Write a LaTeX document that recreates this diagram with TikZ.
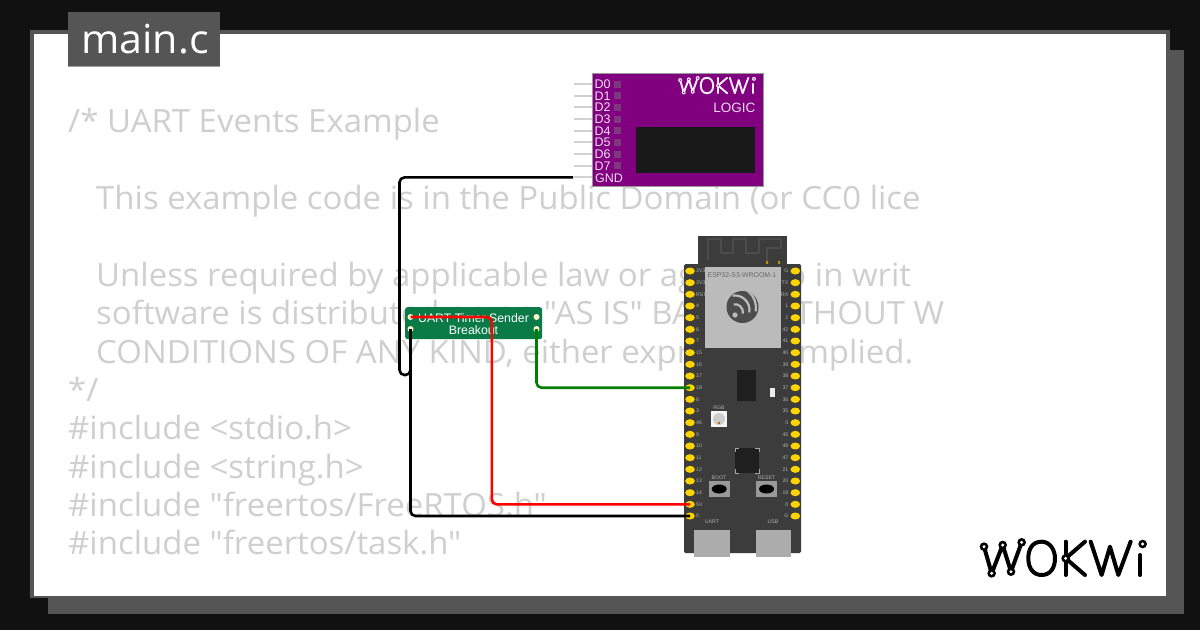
\documentclass[tikz,border=0pt]{standalone}
\usepackage{fontspec}
\setmainfont{Liberation Sans}
\newfontfamily\codefont[FakeStretch=1.03]{Open Sans}
\definecolor{bgdark}{HTML}{111111}
\definecolor{framegray}{HTML}{555555}
\definecolor{codegray}{HTML}{CFCFCF}
\definecolor{boardgray}{HTML}{3C3C3C}
\definecolor{pinyellow}{HTML}{FFD500}
\definecolor{logicpurple}{HTML}{800080}
\definecolor{breakgreen}{HTML}{0A7A46}
\definecolor{tinygray}{HTML}{B0B0B0}
\definecolor{modgray}{HTML}{BBBBBB}
\tikzset{
 codeline/.style={anchor=base west,inner sep=0,text=codegray,font=\codefont\fontsize{32}{32}\selectfont},
 tinyl/.style={inner sep=0,text=tinygray,font=\fontsize{5.2}{5.2}\selectfont},
 chanl/.style={anchor=base west,inner sep=0,text=white!88!logicpurple,font=\fontsize{12.5}{12.5}\selectfont},
 wirepath/.style={line width=2.6pt,rounded corners=5pt,line join=round},
}
\newcommand{\wokwilogo}[6]{%
 \begin{scope}[shift={(#1,#2)},x=#3pt,y=-#3pt,line cap=round,line join=round,line width=#5,draw=#4]
  \draw (72,65) -- (95,145) -- (128,60) -- (153,140) -- (185,52);
  \draw (245,50) .. controls (215,50) and (205,75) .. (205,100) .. controls (205,130) and (220,150) .. (245,150) .. controls (270,150) and (285,130) .. (285,100) .. controls (285,75) and (270,50) .. (245,50);
  \draw (317,50) -- (317,150);
  \draw (375,50) -- (317,100) -- (375,150);
  \draw (392,50) -- (425,150) -- (450,65) -- (475,150) -- (512,50);
  \draw (541,90) -- (541,150);
  \foreach \cx/\cy in {72/65,128/60,185/52,95/145,153/140,317/100,548/57}
   \fill[#4] (\cx,\cy) circle [radius=13];
  \foreach \cx/\cy in {72/65,128/60,185/52,95/145,153/140,317/100,548/57}
   \fill[#6] (\cx,\cy) circle [radius=5];
 \end{scope}}
\begin{document}
\begin{tikzpicture}[x=1pt,y=-1pt]
\useasboundingbox (0,0) rectangle (1200,630);
\fill[bgdark] (0,0) rectangle (1200,630);
\fill[framegray] (48,50) rectangle (1184,614);
\fill[framegray] (30,30) rectangle (1170,598);
\fill[white] (34,34) rectangle (1166,596);
\fill[gray!75] (68,12) rectangle (220,67);
\fill[framegray] (68,12) rectangle (220,66);
\node[anchor=base west,inner sep=0,text=white,font=\codefont\fontsize{40}{40}\selectfont] (tab) at (81,53) {main.c};
% code
\node[codeline] (c1) at (68,132) {/* UART Events Example};
\node[codeline] (c2) at (96,209) {This example code is in the Public Domain (or CC0 lice};
\node[codeline] (c3) at (96,286) {Unless required by applicable law or agreed to in writ};
\node[codeline] (c4) at (96,324) {software is distributed on an "AS IS" BASIS, WITHOUT W};
\node[codeline] (c5) at (96,363) {CONDITIONS OF ANY KIND, either express or implied.};
\node[codeline] (c6) at (68,401) {*/};
\node[codeline] (c7) at (68,439) {\#include <stdio.h>};
\node[codeline] (c8) at (68,478) {\#include <string.h>};
\node[codeline] (c9) at (68,516) {\#include "freertos/FreeRTOS.h"};
\node[codeline] (c10) at (68,554) {\#include "freertos/task.h"};
% big logo
\wokwilogo{960}{525}{0.3333}{black}{4pt}{white}
% logic analyzer
\foreach \yy in {84,95.7,107.4,119,130.7,142.4,154,165.7,177.4}
  \draw[gray!35,line width=2pt] (574,\yy) -- (592,\yy);
\node[draw=gray!80,line width=.8pt,fill=logicpurple,minimum width=170.5pt,minimum height=113pt,inner sep=0,anchor=north west] (logic) at (592,73) {};
\foreach \lbl/\yy in {D0/84,D1/95.7,D2/107.4,D3/119,D4/130.7,D5/142.4,D6/154,D7/165.7}{
  \node[chanl] at (594.5,\yy+4.5) {\lbl};
  \fill[white!30!logicpurple!75!black] (614,\yy-3.5) rectangle (621,\yy+3.5);
}
\node[chanl] (gndl) at (595,182) {GND};
\fill[black!90] (636,127) rectangle (755,173);
\wokwilogo{669}{70}{0.155}{white!92!logicpurple}{1.9pt}{logicpurple}
\node[anchor=base east,inner sep=0,text=white!85!logicpurple,font=\fontsize{13.5}{13.5}\selectfont] (logict) at (755.5,112.5) {LOGIC};
% ESP board
\fill[boardgray] (698,236) rectangle (787,266);
\draw[gray!60!black,line width=1.5pt] (708,260) -- (708,239) -- (721,239) -- (721,253) -- (733,253) -- (733,239) -- (746,239) -- (746,253) -- (759,253) -- (759,239) -- (781,239) -- (781,248) -- (767,248) -- (767,262);
\fill[pinyellow!70!black] (766,261) rectangle (768,264) (778,261) rectangle (780,264);
\fill[boardgray,rounded corners=1.5pt] (684,264) rectangle (801,553);
\fill[modgray] (705,267) rectangle (781,348);
\node[inner sep=0,text=gray!80!black,font=\fontsize{6.9}{6.9}\selectfont] (modt) at (742,275.5) {ESP32-S3-WROOM-1};
% Espressif mark
\fill[gray!60!black] (742.5,307) circle (16);
\begin{scope}
 \clip (742.5,307) circle (16);
 \foreach \rr in {8,14.5,21}
   \draw[modgray,line width=2.2pt] (735,315) ++(-10:\rr) arc[start angle=10,end angle=-100,x radius=\rr,y radius=\rr];
 \fill[modgray] (735,315) circle (2.6);
\end{scope}
% pins
\foreach \i/\ll/\rl in {0/3V3/G,1/3V3/TX,2/RST/RX,3/4/1,4/5/2,5/6/42,6/7/41,7/15/40,8/16/39,9/17/38,10/18/37,11/8/36,12/3/35,13/46/0,14/9/45,15/10/48,16/11/47,17/12/21,18/13/20,19/14/19,20/5V/0,21/0/G}{
  \pgfmathsetmacro{\py}{271+\i*11.667}
  \fill[pinyellow] (690,\py) ellipse (4.8 and 3.5);
  \fill[pinyellow] (795.3,\py) ellipse (4.8 and 3.5);
  \node[tinyl,anchor=west] at (696,\py) {\ll};
  \node[tinyl,anchor=east] at (788.5,\py) {\rl};
}
\coordinate (pin18) at (690,387.7);
\coordinate (pin5v) at (690,504.3);
\coordinate (pin0) at (690,516);
% parts on board
\fill[black!88] (737,370) rectangle (756,401);
\fill[white!85!gray] (770,388) rectangle (775,397);
\node[tinyl] (rgbt) at (719,408) {RGB};
\fill[white!92!gray] (711,411) rectangle (727,427);
\fill[gray!40] (719,419) circle (6);
\fill[orange!80!black] (718,422) rectangle (720,424);
\fill[black!88] (735,448) rectangle (759,473);
\draw[gray!70,line width=.6pt] (735,452) -- (735,448) -- (739,448) (755,448) -- (759,448) -- (759,452) (735,469) -- (735,473) -- (739,473) (755,473) -- (759,473) -- (759,469);
\node[tinyl] (boott) at (719,478) {BOOT};
\node[tinyl] (rest) at (766.5,478) {RESET};
\fill[gray!80] (709,481) rectangle (729.5,497);
\fill[black] (719.2,489) ellipse (7.5 and 4.5);
\fill[gray!80] (756,481) rectangle (777,497);
\fill[black] (766.5,489) ellipse (7.5 and 4.5);
\node[tinyl] (uartt) at (712,522) {UART};
\node[tinyl] (usbt) at (773,522) {USB};
\fill[gray!65] (694,530) rectangle (730,557);
\fill[gray!65] (755.5,530) rectangle (791,557);
% breakout
\node[fill=breakgreen,rounded corners=2.5pt,minimum width=137pt,minimum height=32pt,inner sep=0,anchor=north west] (brk) at (405,307) {};
\node[inner sep=0,text=white,align=center,font=\fontsize{12.3}{12.3}\selectfont] (brkt) at (473.5,324) {UART Timer Sender\\[0pt]Breakout};
\foreach \nm/\xx/\yy in {ptl/410.5/317,pbl/410.5/329,ptr/536.5/317,pbr/536.5/329}{
  \fill[white!80!pinyellow] (\xx,\yy) circle (3);
  \coordinate (\nm) at (\xx,\yy);
}
\coordinate (gndpin) at (573,177.4);
% wires
\draw[wirepath,black] (gndpin) -- (399.5,177.4) -- (399.5,375) -- (pbl |- 0,375) -- (pbl);
\draw[wirepath,black] (pbl) -- (pbl |- pin0) -- (pin0);
\draw[wirepath,red] (ptl) -- (491.8,317) -- (491.8,504.3) -- (pin5v);
\draw[wirepath,green!50!black] (pbr) -- (pbr |- pin18) -- (pin18);
\end{tikzpicture}
\end{document}
